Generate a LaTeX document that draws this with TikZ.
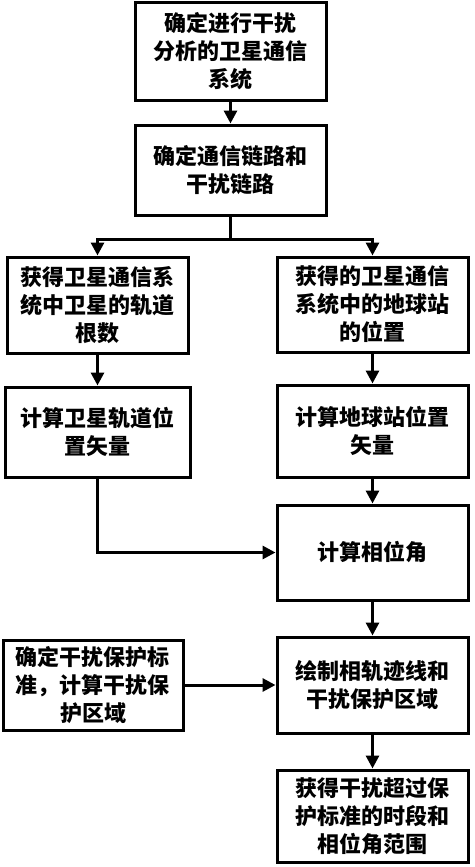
\documentclass[tikz,border=0pt]{standalone}
\usepackage{fontspec}
\setmainfont{Noto Sans CJK SC}
\usetikzlibrary{arrows.meta,calc}
\tikzset{
	stepbox/.style={draw,line width=3pt,align=center,inner sep=0pt,
		font=\fontsize{22}{28}\selectfont\bfseries},
	flow/.style={line width=3pt,-{Triangle[length=13pt,width=13pt]}}
}
\begin{document}
\begin{tikzpicture}[x=1pt,y=-1pt,line join=miter]
		\useasboundingbox (0,0) rectangle (474,867);
		\node[stepbox,minimum width=191pt,minimum height=97pt] (sys) at (230.5,51.5) {确定进行干扰\\分析的卫星通信\\系统};
		\node[stepbox,minimum width=191pt,minimum height=90pt] (link) at (230.5,170) {确定通信链路和\\干扰链路};
		\node[stepbox,minimum width=181pt,minimum height=96pt] (orb) at (97.5,305) {获得卫星通信系\\统中卫星的轨道\\根数};
		\node[stepbox,minimum width=191pt,minimum height=95pt] (sta) at (372.5,304.5) {获得的卫星通信\\系统中的地球站\\的位置};
		\node[stepbox,minimum width=185pt,minimum height=90pt] (orbvec) at (97.5,432) {计算卫星轨道位\\置矢量};
		\node[stepbox,minimum width=191pt,minimum height=92pt] (stavec) at (372.5,431) {计算地球站位置\\矢量};
		\node[stepbox,minimum width=191pt,minimum height=95pt] (phase) at (372.5,552.5) {计算相位角};
		\node[stepbox,minimum width=180pt,minimum height=90pt] (prot) at (93,685) {确定干扰保护标\\准，计算干扰保\\护区域};
		\node[stepbox,minimum width=191pt,minimum height=96pt] (track) at (372.5,685) {绘制相轨迹线和\\干扰保护区域};
		\node[stepbox,minimum width=191pt,minimum height=92pt] (res) at (372.5,816) {获得干扰超过保\\护标准的时段和\\相位角范围};
		\coordinate (fork) at ($(link.south)+(0,23)$);
		\draw[flow] (sys)--(link);
		\draw[line width=3pt] (link)--(fork);
		\draw[flow] (fork)-|(orb);
		\draw[flow] (fork)-|(sta);
		\draw[flow] (orb)--(orbvec);
		\draw[flow] (sta)--(stavec);
		\draw[flow] (orbvec)|-(phase);
		\draw[flow] (stavec)--(phase);
		\draw[flow] (phase)--(track);
		\draw[flow] (prot)--(track);
		\draw[flow] (track)--(res);
\end{tikzpicture}
\end{document}
